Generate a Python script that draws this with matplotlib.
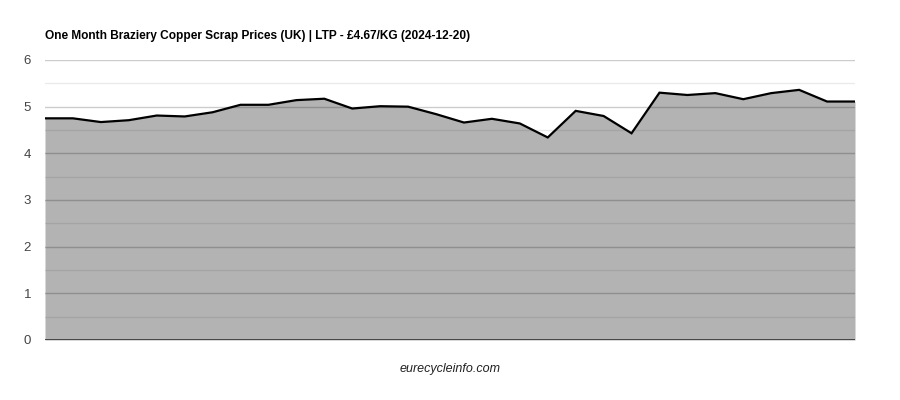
import numpy as np
import matplotlib.pyplot as plt

plt.rcParams['font.family'] = ['Liberation Sans', 'DejaVu Sans']

# one month of daily prices, GBP/kg
prices = [4.75, 4.75, 4.67, 4.71, 4.81, 4.79, 4.88, 5.04, 5.04, 5.14,
          5.17, 4.96, 5.01, 5.00, 4.84, 4.66, 4.74, 4.64, 4.34, 4.91,
          4.80, 4.43, 5.30, 5.25, 5.29, 5.16, 5.29, 5.36, 5.11, 5.11]
yticks = [0, 1, 2, 3, 4, 5, 6]
title = 'One Month Braziery Copper Scrap Prices (UK) | LTP - £4.67/KG (2024-12-20)'
source = 'eurecycleinfo.com'

x = np.arange(len(prices))

fig = plt.figure(figsize=(9, 4), dpi=100)
ax = fig.add_axes([0.05, 0.15, 0.90, 0.70])

ax.fill_between(x, prices, 0, color='#b3b3b3', lw=0, zorder=1)
ax.plot(x, prices, color='black', lw=1.6, zorder=4, solid_joinstyle='miter')

# grid lines drawn over the fill, semi-transparent
for v in np.arange(0.5, 6.01, 0.5):
    a = 0.2 if v % 1 == 0 else 0.08
    ax.axhline(v, color='black', alpha=a, lw=1, zorder=3)
ax.axhline(0, color='#333333', lw=1.2, zorder=5)

ax.set_xlim(x[0], x[-1])
ax.set_ylim(0, 6)
ax.set_yticks(yticks)
ax.set_yticklabels([str(t) for t in yticks], color='#444444', fontsize=9.5)
ax.set_xticks([])
ax.tick_params(axis='y', length=0, pad=10)
for s in ax.spines.values():
    s.set_visible(False)

fig.text(45 / 900, 1 - 35.5 / 400, title, fontsize=8.6, fontweight='bold',
         ha='left', va='center', color='black')
fig.text(0.5, 1 - 369 / 400, source, fontsize=9.0, style='italic',
         ha='center', va='center', color='#222222')

fig.savefig('out.png', dpi=100)
